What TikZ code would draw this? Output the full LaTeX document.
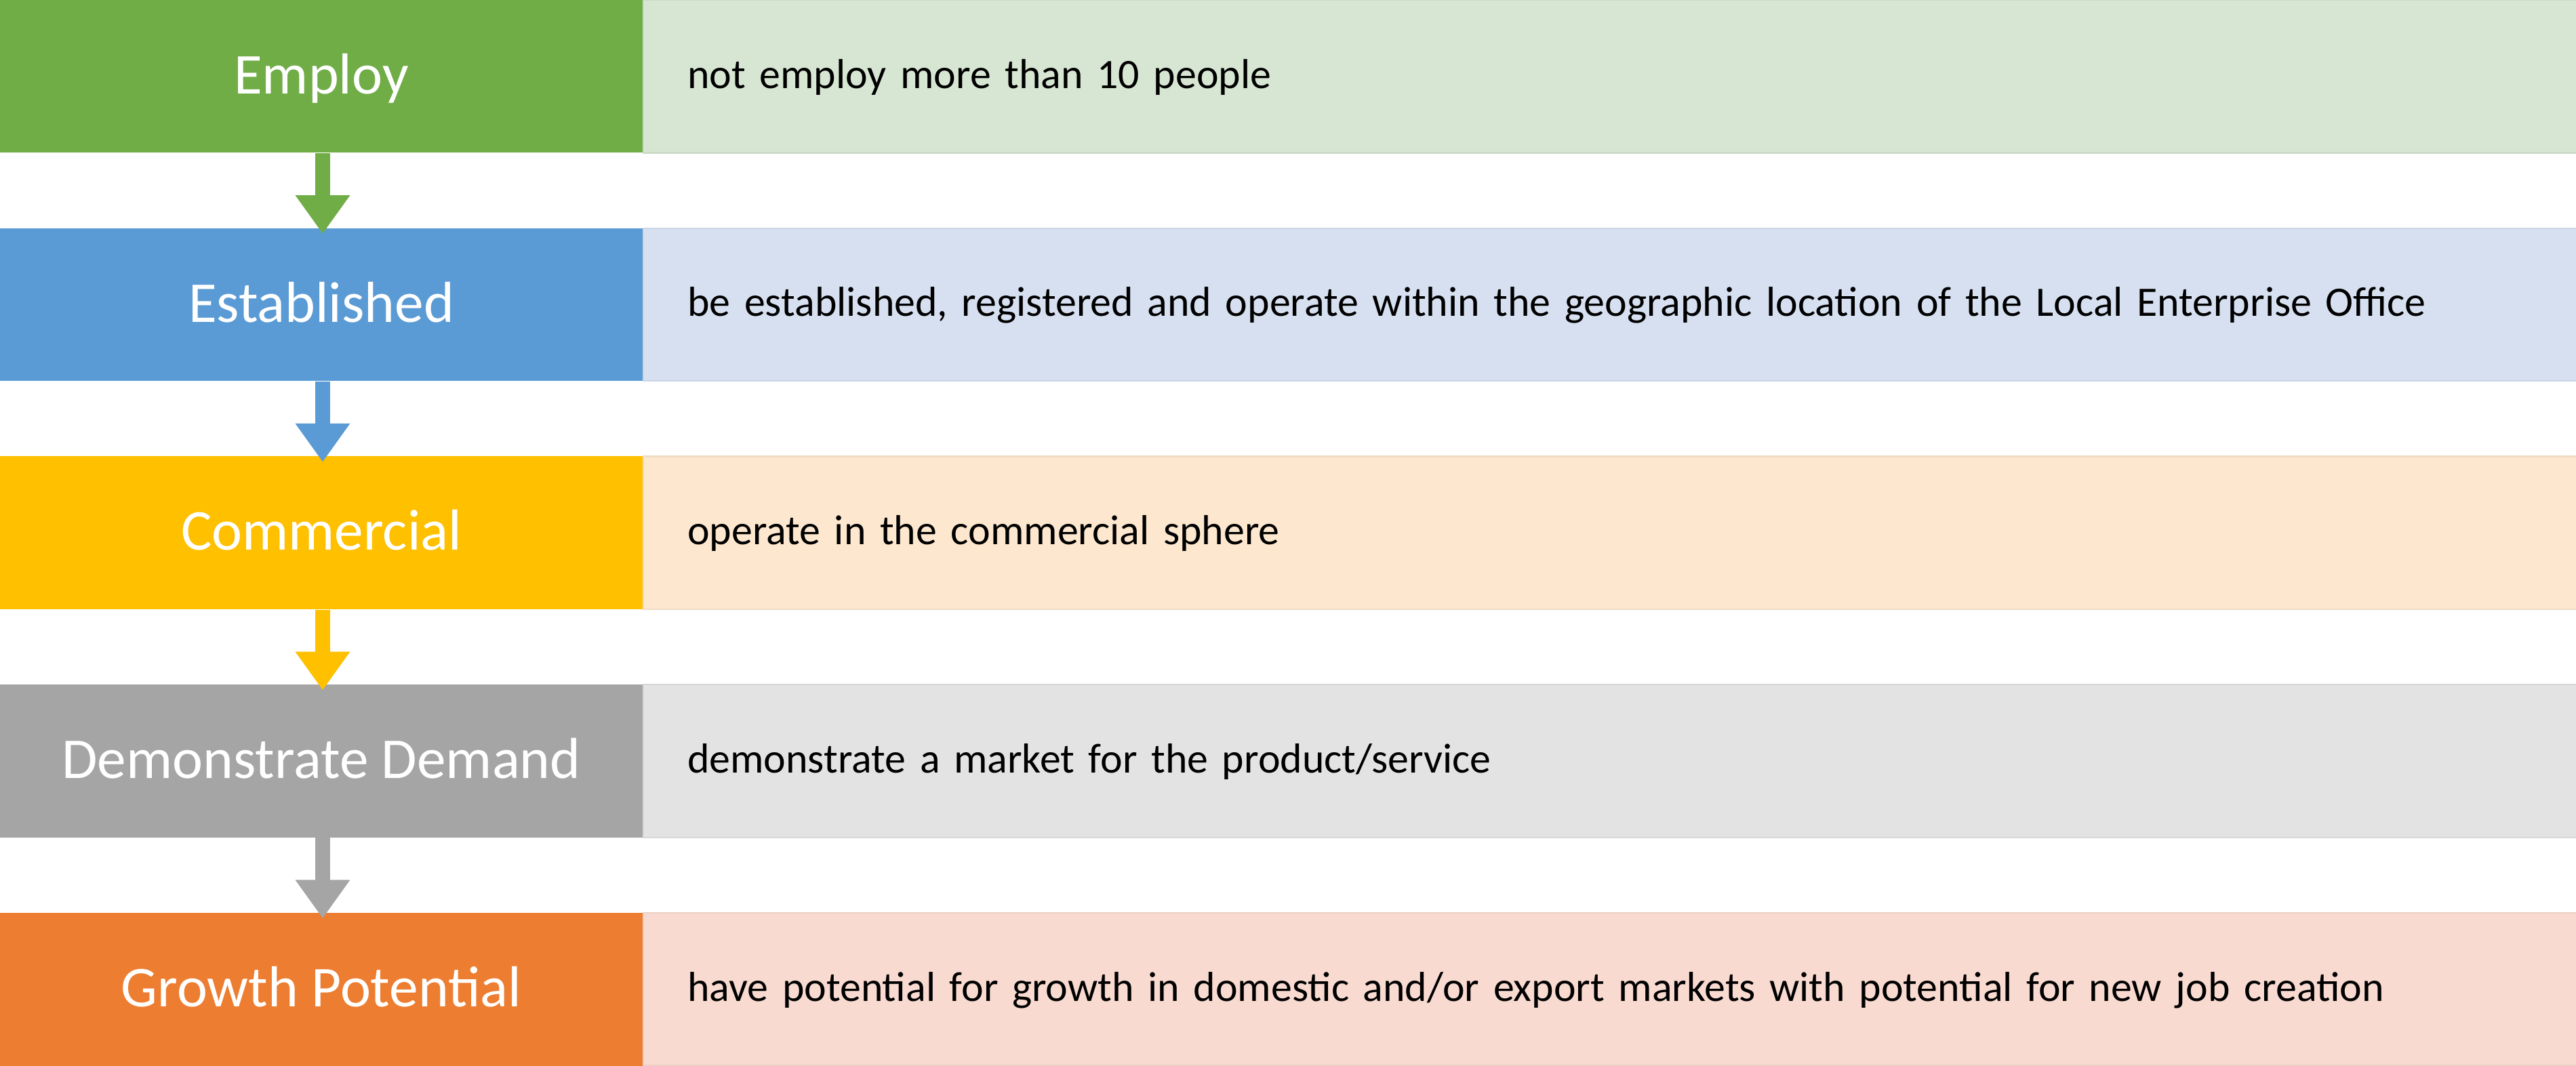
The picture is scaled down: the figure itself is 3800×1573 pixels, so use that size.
\documentclass[tikz,border=0pt]{standalone}
\usepackage{fontspec}
\setmainfont{Carlito}
\usetikzlibrary{arrows.meta}
\definecolor{cGreen}{HTML}{70AD47}
\definecolor{cGreenL}{HTML}{D7E6D3}
\definecolor{cBlue}{HTML}{5B9BD5}
\definecolor{cBlueL}{HTML}{D6E0F0}
\definecolor{cGold}{HTML}{FFC000}
\definecolor{cGoldL}{HTML}{FDE7CF}
\definecolor{cGray}{HTML}{A5A5A5}
\definecolor{cGrayL}{HTML}{E3E3E3}
\definecolor{cOrange}{HTML}{ED7D31}
\definecolor{cOrangeL}{HTML}{F8DAD0}
\tikzset{
  leftbox/.style={rectangle, draw=none, minimum width=266.625pt, minimum height=63.42pt,
    inner sep=0pt, text=white, font=\fontsize{24}{29}\selectfont,
    text height=19.2pt, text depth=4.8pt, anchor=center},
  rightbox/.style={rectangle, minimum width=802.125pt, minimum height=63.42pt,
    inner xsep=18.28pt, inner ysep=0pt, text=black, font=\fontsize{17.4}{21}\selectfont,
    text width=765.5pt, align=left, text height=13.6pt, text depth=3.8pt, anchor=west},
  flowarrow/.style={line width=6.19pt, -{Triangle[width=21.66pt, length=16.03pt]}},
}
\begin{document}
\begin{tikzpicture}[x=0.28125pt, y=-0.28125pt]
\useasboundingbox (0,0) rectangle (3800,1573);
% row centers: 112.75, 449.5, 786.25, 1123, 1459.75
\node[leftbox, fill=cGreen] (L1) at (474,112.75) {Employ};
\node[rightbox, fill=cGreenL, draw=cGreenL!95!black, line width=0.6pt] (R1) at (948,112.75) {not employ more than 10 people};
\node[leftbox, fill=cBlue] (L2) at (474,449.5) {Established};
\node[rightbox, fill=cBlueL, draw=cBlueL!95!black, line width=0.6pt] (R2) at (948,449.5) {be established, registered and operate within the geographic location of the Local Enterprise Office};
\node[leftbox, fill=cGold] (L3) at (474,786.25) {Commercial};
\node[rightbox, fill=cGoldL, draw=cGoldL!95!black, line width=0.6pt] (R3) at (948,786.25) {operate in the commercial sphere};
\node[leftbox, fill=cGray] (L4) at (474,1123) {Demonstrate Demand};
\node[rightbox, fill=cGrayL, draw=cGrayL!95!black, line width=0.6pt] (R4) at (948,1123) {demonstrate a market for the product/service};
\node[leftbox, fill=cOrange] (L5) at (474,1459.75) {Growth Potential};
\node[rightbox, fill=cOrangeL, draw=cOrangeL!95!black, line width=0.6pt] (R5) at (948,1459.75) {have potential for growth in domestic and/or export markets with potential for new job creation};
\draw[flowarrow, cGreen] ([xshift=0.56pt]L1.south) -- ([xshift=0.56pt, yshift=-2.53pt]L2.north);
\draw[flowarrow, cBlue] ([xshift=0.56pt]L2.south) -- ([xshift=0.56pt, yshift=-2.53pt]L3.north);
\draw[flowarrow, cGold] ([xshift=0.56pt]L3.south) -- ([xshift=0.56pt, yshift=-2.53pt]L4.north);
\draw[flowarrow, cGray] ([xshift=0.56pt]L4.south) -- ([xshift=0.56pt, yshift=-2.53pt]L5.north);
\end{tikzpicture}
\end{document}
